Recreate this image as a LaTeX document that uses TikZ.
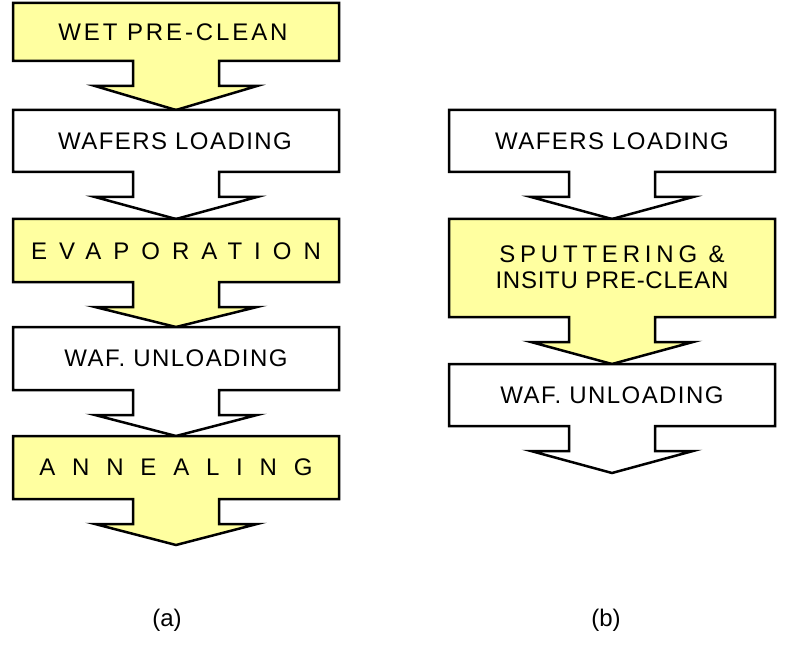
\documentclass[tikz,border=0pt]{standalone}
\usepackage{fontspec}
\setmainfont{Liberation Sans}
\definecolor{yel}{HTML}{FFFFA0}
\newcommand{\myblk}[6]{%
 % #1 center x, #2 top, #3 bottom, #4 tip, #5 fill, #6 half width
 \draw[blk,fill=#5] (#1-#6,#2)--(#1+#6,#2)--(#1+#6,#3)--(#1+43,#3)--(#1+43,#3+25)--(#1+81,#3+25)--(#1,#4)--(#1-81,#3+25)--(#1-43,#3+25)--(#1-43,#3)--(#1-#6,#3)--cycle;}
\begin{document}
\begin{tikzpicture}[x=1pt,y=-1pt,blk/.style={line width=2.5pt,line join=miter},
 lbl/.style={font=\fontsize{24}{28}\selectfont,align=center}]
\useasboundingbox (0,0) rectangle (800,660);
\myblk{176}{3}{61}{110}{yel}{163}
\myblk{176}{110}{172}{219}{white}{163}
\myblk{176}{219}{282}{327}{yel}{163}
\myblk{176}{327}{390}{436}{white}{163}
\myblk{176}{436}{499}{545}{yel}{163}
\myblk{612}{110}{172}{219}{white}{163}
\myblk{612}{219}{317}{364}{yel}{163}
\myblk{612}{364}{426}{473}{white}{163}
\node[lbl] (a1) at (173,32) {\addfontfeature{LetterSpace=12}WET PRE-CLEAN};
\node[lbl] (a2) at (175,141) {\addfontfeature{LetterSpace=6}WAFERS LOADING};
\node[lbl] (a3) at (176,251) {\addfontfeature{LetterSpace=50}EVAPORATION};
\node[lbl] (a4) at (176,358) {\addfontfeature{LetterSpace=6}WAF. UNLOADING};
\node[lbl] (a5) at (176,467) {\addfontfeature{LetterSpace=70}ANNEALING};
\node[lbl] (b1) at (612,141) {\addfontfeature{LetterSpace=6}WAFERS LOADING};
\node[lbl] (b2) at (612,267) {\addfontfeature{LetterSpace=20}SPUTTERING \&\\[-2pt]\addfontfeature{LetterSpace=3}INSITU PRE-CLEAN};
\node[lbl] (b3) at (612,395) {\addfontfeature{LetterSpace=6}WAF. UNLOADING};
\node[lbl] (la) at (167,620) {(a)};
\node[lbl] (lb) at (606,620) {(b)};
\end{tikzpicture}
\end{document}
